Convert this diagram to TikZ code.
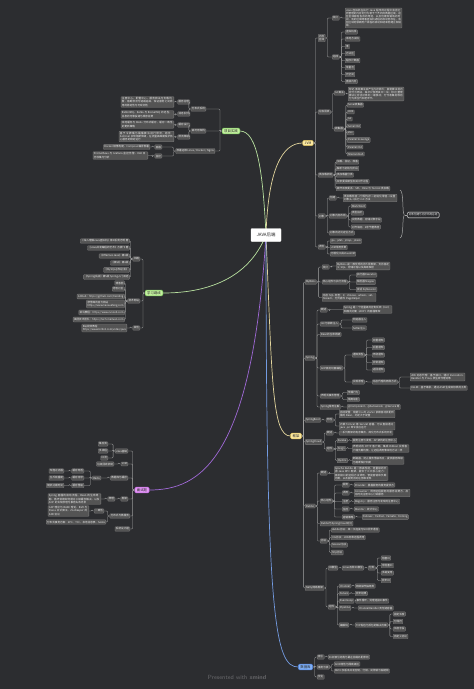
\documentclass[tikz,border=0pt]{standalone}
\usepackage{fontspec}
\newfontfamily\cjk{Noto Sans CJK SC}
\XeTeXlinebreaklocale "zh"
\XeTeXlinebreakskip = 0pt plus 1pt

\definecolor{bgcol}{RGB}{44,45,48}
\definecolor{leaffill}{RGB}{84,84,84}
\definecolor{leafline}{RGB}{125,125,125}
\definecolor{leaftext}{RGB}{236,236,236}
\definecolor{linkcol}{RGB}{165,165,165}
\definecolor{topictext}{RGB}{40,40,40}
\definecolor{greenfill}{RGB}{196,240,160}
\definecolor{greenline}{RGB}{120,200,90}
\definecolor{greencurve}{RGB}{185,225,160}
\definecolor{yellowfill}{RGB}{252,232,160}
\definecolor{yellowline}{RGB}{225,195,90}
\definecolor{yellowcurve}{RGB}{228,214,158}
\definecolor{pinkfill}{RGB}{228,152,246}
\definecolor{pinkline}{RGB}{190,100,220}
\definecolor{pinkcurve}{RGB}{160,105,215}
\definecolor{bluefill}{RGB}{128,176,245}
\definecolor{blueline}{RGB}{80,130,220}
\definecolor{bluecurve}{RGB}{115,155,225}
\definecolor{footcol}{RGB}{105,105,108}

\pgfdeclarelayer{bg}
\pgfsetlayers{bg,main}

\tikzset{
  leaf/.style={draw=leafline, fill=leaffill, text=leaftext, line width=0.3pt,
    rounded corners=0.6pt, inner xsep=0.9pt, inner ysep=1pt, align=left,
    font=\cjk\fontsize{2.6}{3.1}\selectfont},
  topic/.style={rounded corners=1.2pt, inner xsep=2pt, inner ysep=1.3pt,
    text=topictext, line width=0.4pt, font=\cjk\fontsize{3.4}{4}\selectfont},
  link/.style={draw=linkcol, line width=0.35pt, rounded corners=1pt},
  branch/.style={line width=0.7pt},
}

\begin{document}
\begin{tikzpicture}[x=1pt, y=-1pt]
        \useasboundingbox (0,0) rectangle (474,689);

        \node[draw=white, fill=white, rounded corners=1pt, text=topictext, font=\cjk\fontsize{4.4}{5}\selectfont, minimum width=30pt, minimum height=13pt] (root) at (266,235) {JAVA后端};

        % project
        \node[topic, fill=greenfill, draw=greenline] (proj) at (231,131) {项目实践};
        \node[leaf, anchor=east] (pa) at (206,109) {分布式系统};
        \node[leaf, anchor=east] (pa1) at (190,102) {服务治理};
        \node[leaf, anchor=east] (pa2) at (190,114) {消息队列};
        \node[leaf, anchor=east, text width=51pt] (pa1x) at (174,102) {注册中心、配置中心、服务网关与负载均衡，熔断限流与链路追踪，保证服务之间调用的稳定性与可观测性};
        \node[leaf, anchor=east, text width=51pt] (pa2x) at (174,114.5) {RabbitMQ、Kafka 与 RocketMQ 的选型，消息的可靠投递与顺序消费};
        \node[leaf, anchor=east] (pb) at (206,131) {高可用架构};
        \node[leaf, anchor=east] (pb1) at (190,125) {缓存设计};
        \node[leaf, anchor=east] (pb2) at (190,137) {限流降级};
        \node[leaf, anchor=east, text width=51pt] (pb1x) at (174,124.5) {本地缓存与 Redis 分布式缓存，缓存一致性的更新策略};
        \node[leaf, anchor=east, text width=53pt] (pb2x) at (174,136.5) {基于令牌桶与漏桶算法进行限流，结合 Sentinel 实现熔断降级，在流量高峰期保护核心服务的稳定运行};
        \node[leaf, anchor=east] (pc) at (215,151) {部署运维 Linux / Docker / Nginx};
        \node[leaf, anchor=east] (pc1) at (162,147) {容器};
        \node[leaf, anchor=east] (pc2) at (162,156) {监控};
        \node[leaf, anchor=east] (pc1x) at (150,147) {Docker 镜像构建、Compose 编排部署};
        \node[leaf, anchor=east, text width=53pt] (pc2x) at (148,155.5) {Prometheus 与 Grafana 监控告警，ELK 日志收集与分析};

        % learning
        \node[topic, fill=greenfill, draw=greenline] (learn) at (154,293) {学习路线};
        \node[leaf, anchor=east] (la) at (140,259) {书籍};
        \node[leaf, anchor=east] (lb) at (140,301) {技术网站};
        \node[leaf, anchor=east] (lc) at (140,328) {其他};
        \node[leaf, anchor=east] (la1) at (129.5,241) {《深入理解Java虚拟机》第3版 周志明 著};
        \node[leaf, anchor=east] (la2) at (129.5,248) {《Java并发编程的艺术》方腾飞 著};
        \node[leaf, anchor=east] (la3) at (129.5,256) {《Effective Java》第3版};
        \node[leaf, anchor=east] (la4) at (129.5,263) {《算法》第4版};
        \node[leaf, anchor=east] (la5) at (129.5,270) {《MySQL必知必会》};
        \node[leaf, anchor=east] (la6) at (129.5,277) {《Spring实战》第5版 Spring入门首选};
        \node[leaf, anchor=east] (lb1) at (124.5,283) {博客园};
        \node[leaf, anchor=east] (lb2) at (124.5,289) {思否社区};
        \node[leaf, anchor=east] (lb3) at (124.5,296.5) {GitHub：https://github.com/trending};
        \node[leaf, anchor=east] (lb4) at (124.5,304) {廖雪峰的官方网站\\https://www.liaoxuefeng.com};
        \node[leaf, anchor=east] (lb5) at (124.5,312.5) {菜鸟教程：https://www.runoob.com};
        \node[leaf, anchor=east] (lb6) at (124.5,319.5) {美团技术团队：https://tech.meituan.com};
        \node[leaf, anchor=east] (lc1) at (127,328) {B站视频教程\\https://www.bilibili.com/video/java};

        % interview
        \node[topic, fill=pinkfill, draw=pinkline] (iv) at (142,490) {面试题};
        \node[leaf, anchor=east] (ia) at (128,451) {Java基础};
        \node[leaf, anchor=east] (ia1) at (108,444) {集合类};
        \node[leaf, anchor=east] (ia2) at (108,451) {多线程};
        \node[leaf, anchor=east] (ia3) at (108,458) {IO流};
        \node[leaf, anchor=east] (ib) at (128,464) {JVM};
        \node[leaf, anchor=east] (ib1) at (114,464) {垃圾回收机制};
        \node[leaf, anchor=east] (ic) at (128,478) {数据库与缓存};
        \node[leaf, anchor=east] (ics) at (101,478) {Redis};
        \node[leaf, anchor=east] (ic1) at (84,471) {缓存穿透};
        \node[leaf, anchor=east] (ic2) at (84,478) {缓存击穿};
        \node[leaf, anchor=east] (ic3) at (84,485.5) {缓存雪崩};
        \node[leaf, anchor=east] (ic1x) at (64,471) {布隆过滤器};
        \node[leaf, anchor=east] (ic2x) at (64,478) {互斥锁重建};
        \node[leaf, anchor=east] (ic3x) at (64,485.5) {随机过期时间};
        \node[leaf, anchor=east] (id) at (128,499) {框架};
        \node[leaf, anchor=east] (ids) at (115,499) {原理};
        \node[leaf, anchor=east, text width=51pt] (idx) at (101,499) {Spring 容器的启动流程、Bean 的生命周期、循环依赖如何通过三级缓存解决，以及 AOP 的实现原理与事务失效场景};
        \node[leaf, anchor=east] (ie) at (130,516) {分布式与微服务};
        \node[leaf, anchor=east] (ies) at (104,511) {一致性};
        \node[leaf, anchor=east, text width=39pt] (iesx) at (89,511) {CAP 理论与 BASE 理论，Raft 与 Paxos 共识算法，ZooKeeper 的 ZAB 协议};
        \node[leaf, anchor=east] (iex) at (106,522) {分布式事务方案：2PC、TCC、本地消息表、Seata};
        \node[leaf, anchor=east] (isd) at (130,529) {系统设计题};

        % jvm
        \node[topic, fill=yellowfill, draw=yellowline] (jvm) at (308,143) {JVM};
        \node[leaf, anchor=west] (ja) at (318,38) {内存\\区域};
        \node[leaf, anchor=west] (ja1) at (332,18) {简介};
        \node[leaf, anchor=west, text width=55pt] (ja1x) at (345,18) {Java 虚拟机在执行 Java 程序的过程中会把它所管理的内存划分为若干个不同的数据区域，这些区域都有各自的用途，以及创建和销毁的时间，有的区域随着虚拟机进程的启动而存在，有些区域则依赖用户线程的启动和结束而建立和销毁。};
        \node[leaf, anchor=west] (ja2) at (332,57) {组成};
        \node[leaf, anchor=west] (ja21) at (345,32) {虚拟机栈};
        \node[leaf, anchor=west] (ja22) at (345,39) {本地方法栈};
        \node[leaf, anchor=west] (ja23) at (345,46.5) {堆};
        \node[leaf, anchor=west] (ja24) at (345,53.5) {方法区};
        \node[leaf, anchor=west] (ja25) at (345,60.5) {程序计数器};
        \node[leaf, anchor=west] (ja26) at (345,67.5) {常量池};
        \node[leaf, anchor=west] (ja27) at (345,74.5) {元空间};
        \node[leaf, anchor=west] (ja28) at (345,81.5) {直接内存};
        \node[leaf, anchor=west] (jb) at (318,112) {垃圾回收};
        \node[leaf, anchor=west] (jb1) at (334,93) {GC算法};
        \node[leaf, anchor=west, text width=54pt] (jb1x) at (348,94) {标记-清除算法会产生内存碎片；复制算法将内存分为两块，每次只使用其中一块；标记-整理算法让存活对象向一端移动；分代收集将堆划分为新生代和老年代。};
        \node[leaf, anchor=west] (jb2) at (334,129) {收集器};
        \node[leaf, anchor=west] (jb21) at (347,105) {Serial收集器};
        \node[leaf, anchor=west] (jb22) at (347,112) {CMS};
        \node[leaf, anchor=west] (jb23) at (347,119) {G1};
        \node[leaf, anchor=west] (jb24) at (347,126) {Serial Old};
        \node[leaf, anchor=west] (jb25) at (347,133) {ZGC};
        \node[leaf, anchor=west] (jb26) at (347,140) {Parallel Scavenge};
        \node[leaf, anchor=west] (jb27) at (347,147) {Parallel Old};
        \node[leaf, anchor=west] (jb28) at (347,154) {Shenandoah};
        \node[leaf, anchor=west] (jc) at (318,175) {类加载机制};
        \node[leaf, anchor=west] (jc1) at (336,162) {加载、验证、准备};
        \node[leaf, anchor=west] (jc2) at (336,168.5) {解析与初始化阶段};
        \node[leaf, anchor=west] (jc3) at (336,175) {类加载器分类};
        \node[leaf, anchor=west] (jc4) at (336,181.5) {双亲委派模型及其工作过程};
        \node[leaf, anchor=west] (jc5) at (336,188.5) {破坏双亲委派：SPI、OSGi 与 Tomcat 类加载};
        \node[leaf, anchor=west] (jd) at (318,216) {对象};
        \node[leaf, anchor=west] (jd1) at (329,198) {创建};
        \node[leaf, anchor=west, text width=52pt] (jd1x) at (343,198) {类加载检查→分配内存→初始化零值→设置对象头→执行 init 方法};
        \node[leaf, anchor=west] (jd2) at (329,216) {对象内存布局};
        \node[leaf, anchor=west] (jd21) at (351,206) {Mark Word};
        \node[leaf, anchor=west] (jd22) at (351,213) {类型指针};
        \node[leaf, anchor=west] (jd23) at (351,220) {实例数据：存储对象字段};
        \node[leaf, anchor=west] (jd24) at (351,227) {对齐填充：8字节整数倍};
        \node[leaf, anchor=west] (jd3) at (329,233) {对象的访问定位方式};
        \node[leaf, anchor=west] (je) at (318,247) {调优};
        \node[leaf, anchor=west] (je1) at (330,241) {jps、jstat、jmap、jstack};
        \node[leaf, anchor=west] (je2) at (330,247.5) {JVM常用参数};
        \node[leaf, anchor=west] (je3) at (330,254) {可视化工具VisualVM};
        \coordinate (brtop) at (400,190);
        \coordinate (brtip) at (405,215);
        \coordinate (brbot) at (400,238);
        \node[draw=white, fill=bgcol, text=leaftext, rounded corners=1.2pt, line width=0.45pt, inner sep=1.6pt, font=\cjk\fontsize{2.6}{3.1}\selectfont, anchor=west] (sum) at (407,215) {对象创建与内存布局总结};

        % framework
        \node[topic, fill=yellowfill, draw=yellowline] (fw) at (296,436) {框架};
        \node[leaf, anchor=west] (fa) at (305,282) {MyBatis};
        \node[leaf, anchor=west] (fa1) at (322,267) {简介};
        \node[leaf, anchor=west, text width=52pt] (fa1x) at (336,266) {MyBatis 是一款优秀的持久层框架，支持自定义 SQL、存储过程以及高级映射};
        \node[leaf, anchor=west] (fa2) at (322,282) {核心组件与执行流程};
        \node[leaf, anchor=west] (fa21) at (356,275) {执行器 Executor};
        \node[leaf, anchor=west] (fa22) at (356,282) {映射器 Mapper};
        \node[leaf, anchor=west] (fa23) at (356,289.5) {会话 SqlSession};
        \node[leaf, anchor=west, text width=52pt] (fa3) at (322,297.5) {动态 SQL 标签：if、choose、where、set、foreach，分页插件 PageHelper};
        \node[leaf, anchor=west] (fb) at (305,358) {Spring};
        \node[leaf, anchor=west] (fb1) at (320,310) {概述};
        \node[leaf, anchor=west, text width=47pt] (fb1x) at (343,309.5) {Spring 是一个轻量级的控制反转（IoC）和面向切面（AOP）的容器框架};
        \node[leaf, anchor=west] (fb2) at (320,324) {IoC与依赖注入};
        \node[leaf, anchor=west] (fb21) at (352,320) {构造器注入};
        \node[leaf, anchor=west] (fb22) at (352,328) {Setter注入};
        \node[leaf, anchor=west] (fb3) at (320,334.5) {Bean的生命周期};
        \node[leaf, anchor=west] (fb4) at (320,368) {AOP面向切面编程};
        \node[leaf, anchor=west] (fb41) at (352,355) {通知类型};
        \node[leaf, anchor=west] (fb411) at (372,340) {前置通知};
        \node[leaf, anchor=west] (fb412) at (372,347.5) {后置通知};
        \node[leaf, anchor=west] (fb413) at (372,355) {环绕通知};
        \node[leaf, anchor=west] (fb414) at (372,362.5) {异常通知};
        \node[leaf, anchor=west] (fb415) at (372,370) {返回通知};
        \node[leaf, anchor=west] (fb42) at (352,382) {实现原理};
        \node[leaf, anchor=west] (fb43) at (372,382) {动态代理的两种方式};
        \node[leaf, anchor=west, text width=53pt] (fb431) at (410,377) {JDK 动态代理：基于接口，通过 InvocationHandler 与 Proxy 类生成代理对象};
        \node[leaf, anchor=west] (fb432) at (410,388) {CGLIB：基于继承，通过 ASM 生成目标类的子类};
        \node[leaf, anchor=west] (fb5) at (320,396) {声明式事务管理};
        \node[leaf, anchor=west] (fb51) at (347,392.5) {传播行为};
        \node[leaf, anchor=west] (fb52) at (347,399.5) {隔离级别};
        \node[leaf, anchor=west] (fb6) at (320,407) {Spring常用注解};
        \node[leaf, anchor=west] (fb6x) at (347,407) {@Component、@Autowired、@Service 等};
        \node[leaf, anchor=west] (fc) at (305,420) {SpringBoot};
        \node[leaf, anchor=west] (fc1) at (326,420) {特性};
        \node[leaf, anchor=west, text width=54pt] (fc11) at (339,414) {自动配置：根据引入的 starter 依赖自动装配所需的 Bean，约定大于配置};
        \node[leaf, anchor=west, text width=54pt] (fc12) at (339,426) {内嵌 Tomcat 等 Servlet 容器，可以直接通过 java -jar 命令独立运行};
        \node[leaf, anchor=west] (fd) at (305,442) {SpringCloud};
        \node[leaf, anchor=west] (fd1) at (326,433) {概述};
        \node[leaf, anchor=west] (fd1x) at (339,433) {一系列框架的有序集合，简化分布式系统开发};
        \node[leaf, anchor=west] (fd2) at (326,449) {组件};
        \node[leaf, anchor=west] (fd21) at (337,440.5) {Eureka};
        \node[leaf, anchor=west] (fd22) at (337,448.5) {Feign};
        \node[leaf, anchor=west] (fd23) at (337,460.5) {Hystrix};
        \node[leaf, anchor=west] (fd21x) at (352,440.5) {服务注册与发现，AP 架构的注册中心};
        \node[leaf, anchor=west, text width=55pt] (fd22x) at (352,448.5) {声明式的 HTTP 客户端，集成 Ribbon 实现客户端负载均衡，让远程调用像本地方法一样};
        \node[leaf, anchor=west, text width=50pt] (fd23x) at (352,460.5) {断路器，防止服务雪崩效应，提供服务降级与熔断保护机制};
        \node[leaf, anchor=west] (fe) at (305,506) {Dubbo};
        \node[leaf, anchor=west] (fe1) at (320,473) {概述};
        \node[leaf, anchor=west, text width=52pt] (fe1x) at (334,473.5) {Apache Dubbo 是一款高性能、轻量级的开源 Java RPC 框架，提供了三大核心能力：面向接口的远程方法调用，智能容错和负载均衡，以及服务自动注册和发现};
        \node[leaf, anchor=west] (fe2) at (320,501) {核心组件};
        \node[leaf, anchor=west] (fe21) at (342,485) {服务};
        \node[leaf, anchor=west] (fe22) at (342,493) {调用};
        \node[leaf, anchor=west] (fe23) at (342,501.5) {注册};
        \node[leaf, anchor=west] (fe24) at (342,509) {监控};
        \node[leaf, anchor=west] (fe25) at (342,517) {容错策略};
        \node[leaf, anchor=west] (fe21x) at (354,485) {Provider：暴露服务的服务提供方};
        \node[leaf, anchor=west, text width=54pt] (fe22x) at (354,493) {Consumer：调用远程服务的服务消费方，启动时向注册中心订阅服务};
        \node[leaf, anchor=west] (fe23x) at (354,501.5) {Registry：服务注册与发现的注册中心};
        \node[leaf, anchor=west] (fe24x) at (354,509) {Monitor：统计中心};
        \node[leaf, anchor=west] (fe25x) at (362,517) {Failover、Failfast、Failsafe、Forking};
        \node[leaf, anchor=west] (fe3) at (320,523.5) {Dubbo与SpringCloud对比};
        \node[leaf, anchor=west] (fe4) at (320,541) {协议};
        \node[leaf, anchor=west] (fe41) at (331,530) {dubbo协议：单一长连接与NIO异步通信};
        \node[leaf, anchor=west] (fe42) at (331,537.5) {rmi协议：JDK标准远程调用};
        \node[leaf, anchor=west] (fe43) at (331,545) {hessian协议};
        \node[leaf, anchor=west] (fe44) at (331,552.5) {http协议};
        \node[leaf, anchor=west] (ff) at (305,588) {Netty网络框架};
        \node[leaf, anchor=west] (ff1) at (328,568) {IO模型};
        \node[leaf, anchor=west] (ff11) at (342,568) {Linux五种IO模型};
        \node[leaf, anchor=west] (ff12) at (368,568) {分类};
        \node[leaf, anchor=west] (ff121) at (381,558) {阻塞IO};
        \node[leaf, anchor=west] (ff122) at (381,565.5) {非阻塞IO};
        \node[leaf, anchor=west] (ff123) at (381,573) {多路复用};
        \node[leaf, anchor=west] (ff124) at (381,580.5) {异步IO};
        \node[leaf, anchor=west] (ff2) at (328,607) {组件};
        \node[leaf, anchor=west] (ff21) at (339,586) {Channel};
        \node[leaf, anchor=west] (ff22) at (339,593.5) {Future};
        \node[leaf, anchor=west] (ff23) at (339,601) {EventLoop};
        \node[leaf, anchor=west] (ff24) at (339,608) {Pipeline};
        \node[leaf, anchor=west] (ff25) at (339,625) {编解码};
        \node[leaf, anchor=west] (ff21x) at (355,586) {网络操作抽象类};
        \node[leaf, anchor=west] (ff22x) at (355,593.5) {异步结果};
        \node[leaf, anchor=west] (ff23x) at (355.5,601) {事件循环，处理连接IO事件};
        \node[leaf, anchor=west] (ff24x) at (358,608) {ChannelHandler 责任链容器};
        \node[leaf, anchor=west] (ff25x) at (355,625) {TCP粘包与拆包的解决方案};
        \node[leaf, anchor=west] (ff251) at (393,614) {固定长度};
        \node[leaf, anchor=west] (ff252) at (393,621.5) {分隔符};
        \node[leaf, anchor=west] (ff253) at (393,629) {长度字段};
        \node[leaf, anchor=west] (ff254) at (393,636.5) {自定义协议};

        % database
        \node[topic, fill=bluefill, draw=blueline] (db) at (305.5,667) {数据库};
        \node[leaf, anchor=west] (db1) at (317,657) {索引};
        \node[leaf, anchor=west] (db2) at (317,667) {事务与锁};
        \node[leaf, anchor=west] (db3) at (317,677) {优化};
        \node[leaf, anchor=west] (db1x) at (328,657) {B+树索引结构与最左前缀匹配原则};
        \node[leaf, anchor=west] (db21) at (334,664) {ACID特性与隔离级别};
        \node[leaf, anchor=west] (db22) at (334,671) {MVCC多版本并发控制，行锁、间隙锁与临键锁};

        \node[text=footcol, font=\sffamily\fontsize{6}{7}\selectfont] (foot) at (237,677) {Presented with \textbf{xmind}};

        % branches from the root
        \begin{pgfonlayer}{bg}
        \fill[bgcol] (0,0) rectangle (474,689);
        \draw[branch, greencurve] (root.center) .. controls (263,175) and (258,131) .. (proj.east);
        \draw[branch, yellowcurve] (root.center) .. controls (268,170) and (282,143) .. (jvm.west);
        \draw[branch, greencurve] (root.center) .. controls (248,280) and (205,293) .. (learn.east);
        \draw[branch, yellowcurve] (root.center) .. controls (272,380) and (272,436) .. (fw.west);
        \draw[branch, pinkcurve] (root.center) .. controls (252,460) and (200,490) .. (iv.east);
        \draw[branch, bluecurve] (root.center) .. controls (266,620) and (275,667) .. (db.west);
        \end{pgfonlayer}

        % left side links
        \foreach \p/\c in {proj/pa,proj/pb,proj/pc,pa/pa1,pa/pa2,pb/pb1,pb/pb2,pc/pc1,pc/pc2,
            pa1/pa1x,pa2/pa2x,pb1/pb1x,pb2/pb2x,pc1/pc1x,pc2/pc2x,
            learn/la,learn/lb,learn/lc,la/la1,la/la2,la/la3,la/la4,la/la5,la/la6,
            lb/lb1,lb/lb2,lb/lb3,lb/lb4,lb/lb5,lb/lb6,lc/lc1,
            iv/ia,iv/ib,iv/ic,iv/id,iv/ie,iv/isd,ia/ia1,ia/ia2,ia/ia3,ib/ib1,ic/ics,
            ics/ic1,ics/ic2,ics/ic3,ic1/ic1x,ic2/ic2x,ic3/ic3x,id/ids,ids/idx,ie/ies,ie/iex,ies/iesx}
            \draw[link] (\p.west) -- ++(-2,0) |- (\c.east);

        % right side links
        \foreach \p/\c in {jvm/ja,jvm/jb,jvm/jc,jvm/jd,jvm/je,ja/ja1,ja/ja2,ja1/ja1x,
            ja2/ja21,ja2/ja22,ja2/ja23,ja2/ja24,ja2/ja25,ja2/ja26,ja2/ja27,ja2/ja28,
            jb/jb1,jb/jb2,jb1/jb1x,jb2/jb21,jb2/jb22,jb2/jb23,jb2/jb24,jb2/jb25,jb2/jb26,jb2/jb27,jb2/jb28,
            jc/jc1,jc/jc2,jc/jc3,jc/jc4,jc/jc5,jd/jd1,jd/jd2,jd/jd3,jd1/jd1x,
            jd2/jd21,jd2/jd22,jd2/jd23,jd2/jd24,je/je1,je/je2,je/je3}
            \draw[link] (\p.east) -- ++(2,0) |- (\c.west);
        \foreach \p/\c in {fw/fa,fw/fb,fw/fc,fw/fd,fw/fe,fw/ff,fa/fa1,fa/fa2,fa/fa3,fa1/fa1x,
            fa2/fa21,fa2/fa22,fa2/fa23,fb/fb1,fb/fb2,fb/fb3,fb/fb4,fb/fb5,fb/fb6,fb1/fb1x,
            fb2/fb21,fb2/fb22,fb4/fb41,fb4/fb42,fb41/fb411,fb41/fb412,fb41/fb413,fb41/fb414,fb41/fb415,
            fb42/fb43,fb43/fb431,fb43/fb432,fb5/fb51,fb5/fb52,fb6/fb6x,
            fc/fc1,fc1/fc11,fc1/fc12,fd/fd1,fd/fd2,fd1/fd1x,fd2/fd21,fd2/fd22,fd2/fd23,
            fd21/fd21x,fd22/fd22x,fd23/fd23x,fe/fe1,fe/fe2,fe/fe3,fe/fe4,fe1/fe1x,
            fe2/fe21,fe2/fe22,fe2/fe23,fe2/fe24,fe2/fe25,fe21/fe21x,fe22/fe22x,fe23/fe23x,fe24/fe24x,fe25/fe25x,
            fe4/fe41,fe4/fe42,fe4/fe43,fe4/fe44,ff/ff1,ff/ff2,ff1/ff11,ff11/ff12,
            ff12/ff121,ff12/ff122,ff12/ff123,ff12/ff124,ff2/ff21,ff2/ff22,ff2/ff23,ff2/ff24,ff2/ff25,
            ff21/ff21x,ff22/ff22x,ff23/ff23x,ff24/ff24x,ff25/ff25x,
            ff25x/ff251,ff25x/ff252,ff25x/ff253,ff25x/ff254,
            db/db1,db/db2,db/db3,db1/db1x,db2/db21,db2/db22}
            \draw[link] (\p.east) -- ++(2,0) |- (\c.west);

        % summary bracket
        \draw[link, line width=0.5pt] (brtop) .. controls (404,191) and (402,213) .. (brtip) .. controls (402,217) and (404,237) .. (brbot);
        \draw[link] (brtip) -- (sum.west);

    \end{tikzpicture}
\end{document}
